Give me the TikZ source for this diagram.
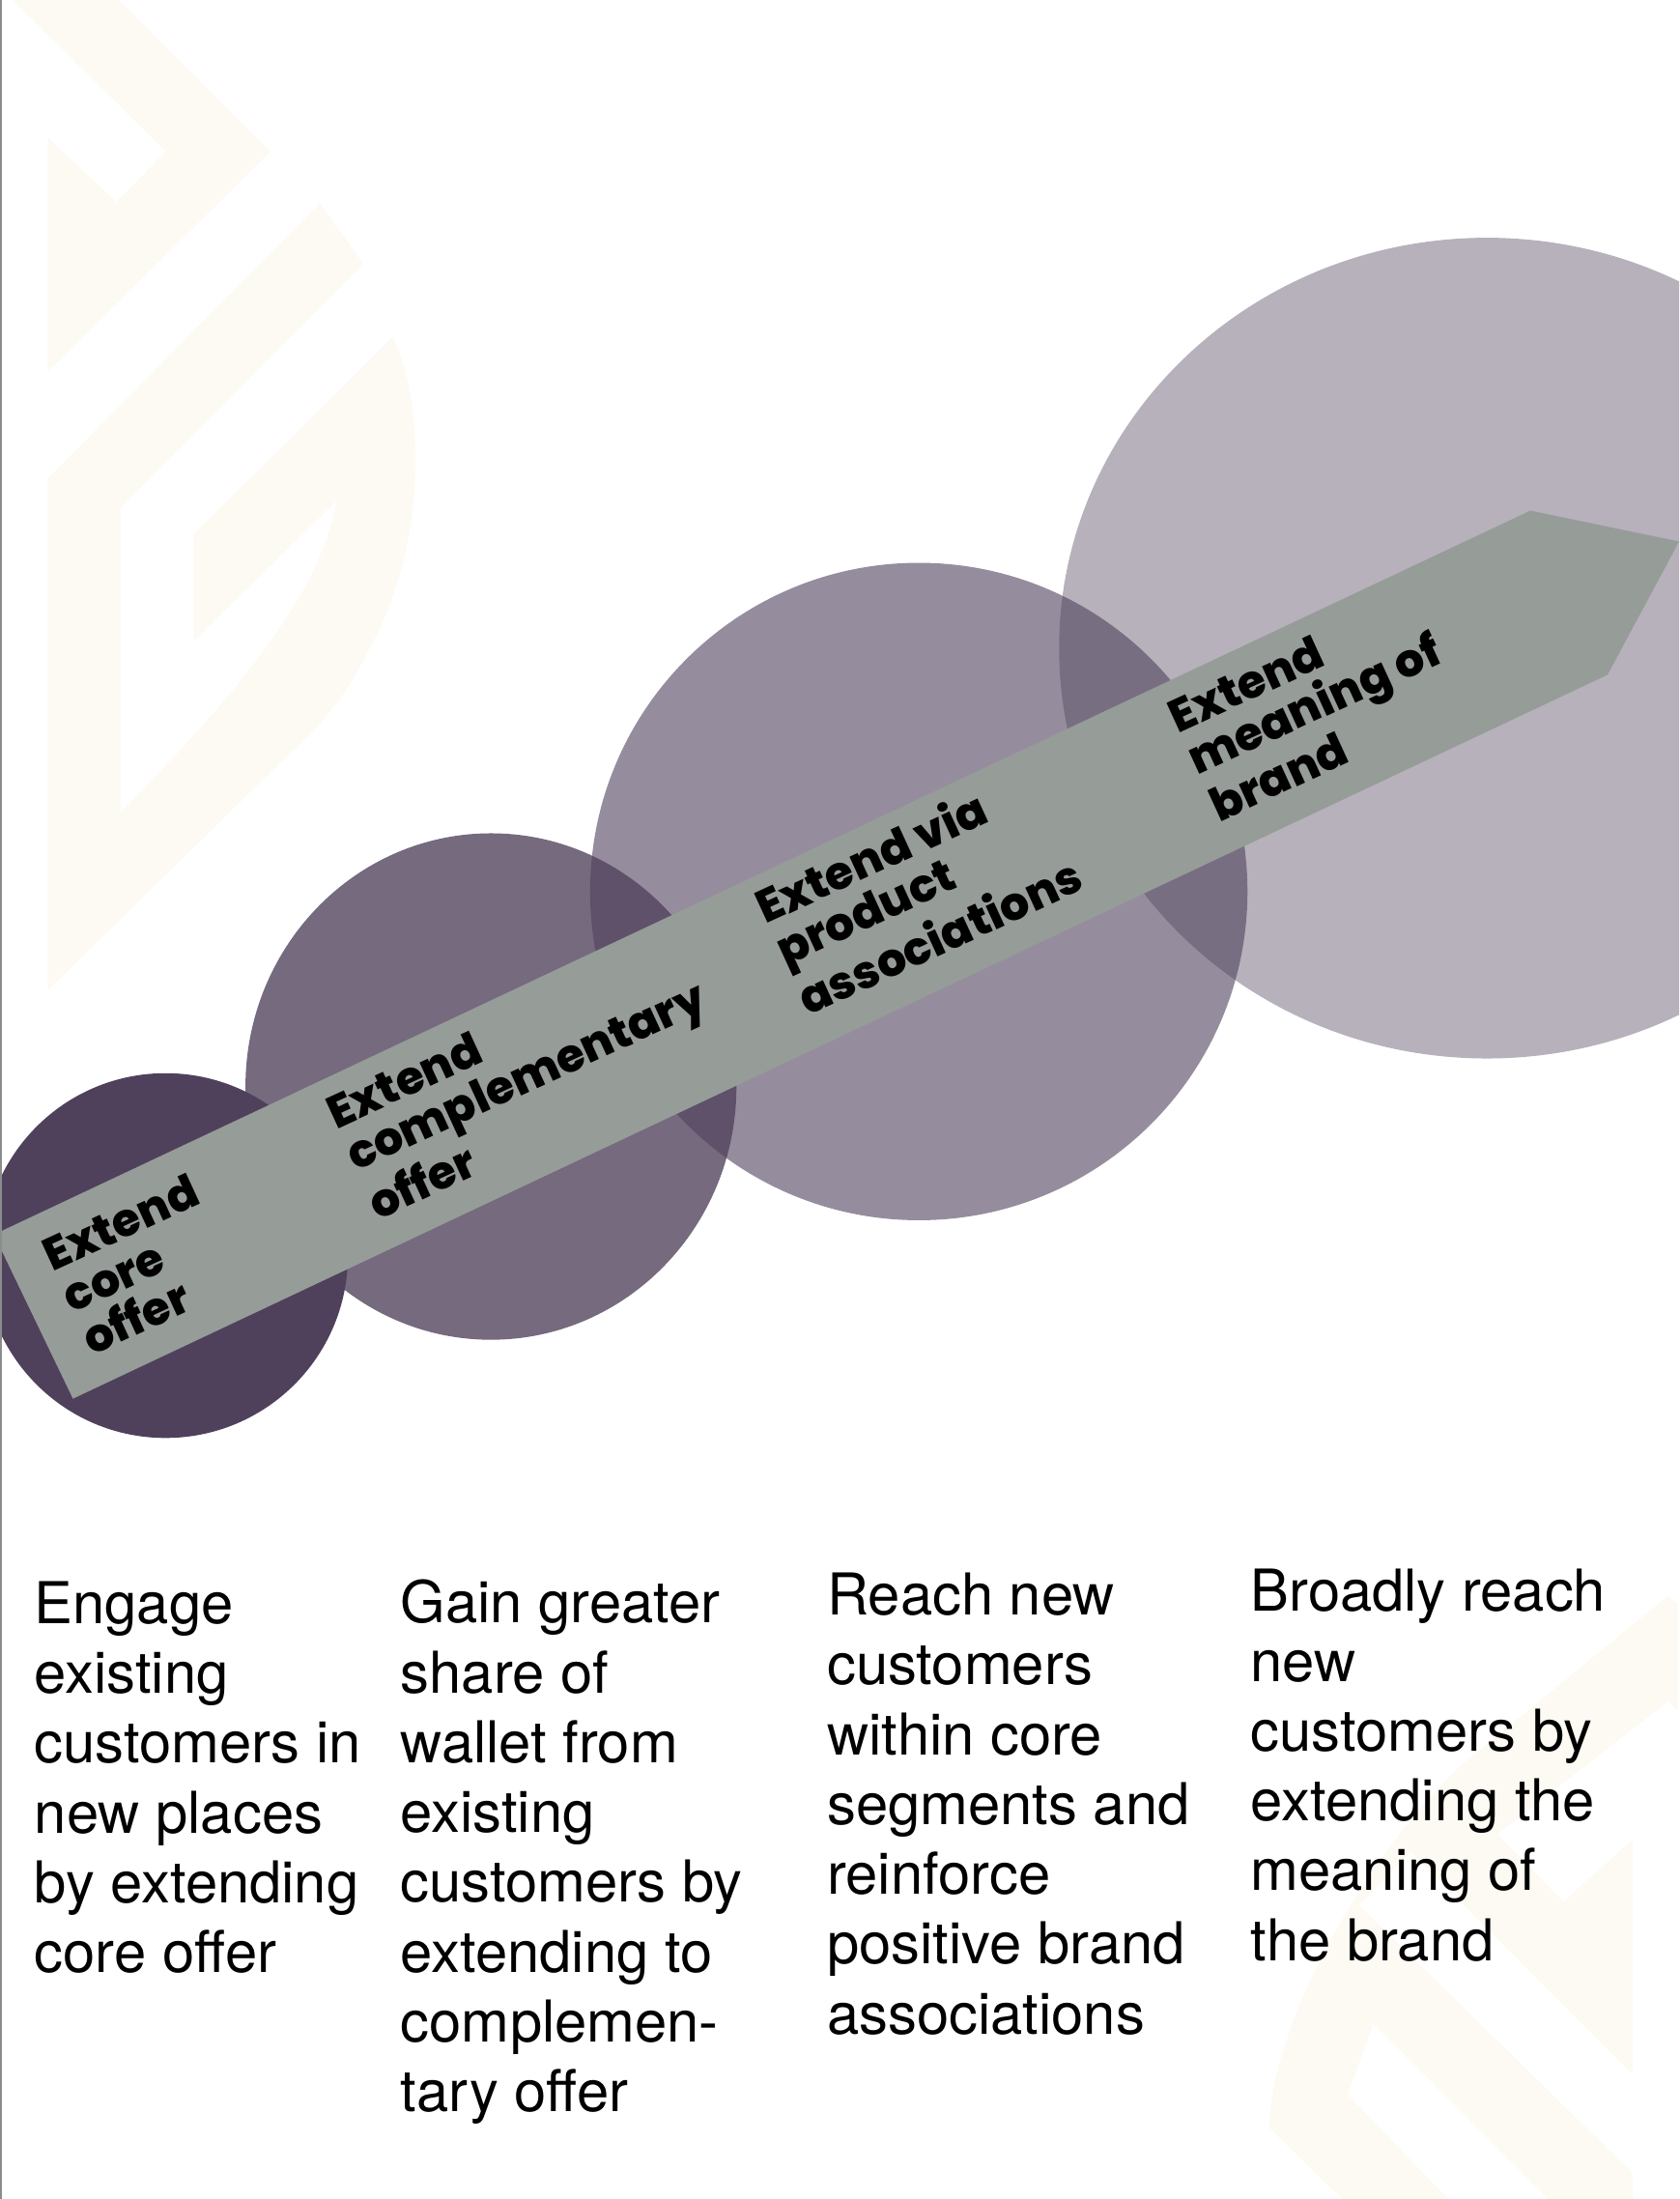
\documentclass[tikz,border=0pt]{standalone}
\usepackage{fontspec}
\setmainfont{TeX Gyre Heros}
\newfontfamily\bandfont{Poppins}[UprightFont=* ExtraBold]
\definecolor{plum}{HTML}{4F415B}
\definecolor{band}{HTML}{969C98}
\definecolor{cream}{HTML}{FCFAF2}
\tikzset{
  bandtext/.style={anchor=west, rotate=24.7, inner sep=0, align=left,
    font=\bandfont\fontsize{9.3}{9.4}\selectfont},
  bodytext/.style={anchor=north west, inner sep=0, align=left,
    font=\fontsize{11.7}{14.15}\selectfont}
}
\begin{document}
\begin{tikzpicture}[x=.01cm, y=-.01cm]
  \useasboundingbox (0,0) rectangle (1197,1567.5);
  \begin{scope}
    \clip (0,0) rectangle (1197,1567.5);
    % logo, top left
    \fill[cream] (9,0) -- (85,0) -- (193,108) -- (34,265) -- (34,98)
      -- (83,144) -- (118,108) -- cycle;
    \fill[cream] (34,341) -- (228,145) -- (259,188) -- (86,362) -- (86,579)
      .. controls (184,480) and (230,415) .. (240,357)
      -- (138,457) -- (138,381) -- (280,240)
      .. controls (302,285) and (306,385) .. (264,461)
      .. controls (250,490) and (235,510) .. (218,526)
      -- (34,706) -- cycle;
    % logo, bottom right
    \fill[cream] (1189,1137.5) -- (1196,1143) -- (1196,1219) -- (1189,1213)
      -- (1067.5,1307.5) -- (1114.5,1355.5) -- (1164,1311) -- (1164,1479)
      -- (1005.5,1320) -- (968.7,1358) -- (1164,1549) -- (1164,1568)
      -- (1104,1568) -- (979,1442.5) -- (960.7,1493) -- (1033,1568)
      -- (957.3,1568) -- (905,1517)
      .. controls (905,1446) and (973,1322) .. (1042,1258) -- cycle;
    % circles
    \fill[plum, fill opacity=.41] (1060,462) circle [x radius=305, y radius=292.5];
    \fill[plum, fill opacity=.60] (655,635.5) circle (234.3);
    \fill[plum, fill opacity=.784] (350,774.5) circle [x radius=175, y radius=180.5];
    \fill[plum] (118,895) circle (130);
    % arrow
    \fill[band] (0,878) -- (1091,364) -- (1197,386) -- (1146,481) -- (52,997)
      -- (0,889) -- cycle;
    \fill[gray!90] (0,0) rectangle (1.4,1568);
  \end{scope}
  % labels on the arrow
  \node[bandtext] (core) at (46,926) {Extend\\core\\offer};
  \node[bandtext] (compl) at (249,827) {Extend\\complementary\\offer};
  \node[bandtext] (assoc) at (555,680) {Extend via\\product\\associations};
  \node[bandtext] (meaning) at (849,544) {Extend\\meaning of\\brand};
  % columns
  \node[bodytext] (engage) at (24,1126.5) {Engage\\existing\\customers in\\new places\\by extending\\core offer};
  \node[bodytext] (gain) at (285,1125.5) {Gain greater\\share of\\wallet from\\existing\\customers by\\extending to\\complemen-\\tary offer};
  \node[bodytext] (reach) at (589,1120.5) {Reach new\\customers\\within core\\segments and\\reinforce\\positive brand\\associations};
  \node[bodytext] (broad) at (891,1118) {Broadly reach\\new\\customers by\\extending the\\meaning of\\the brand};
\end{tikzpicture}
\end{document}
